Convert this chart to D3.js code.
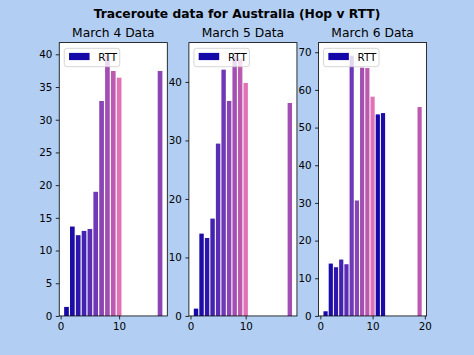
<!DOCTYPE html>
<html>
<head>
<meta charset="utf-8">
<script src="https://cdn.jsdelivr.net/npm/d3@7"></script>
<style>
  html, body { margin: 0; padding: 0; background: #b2cef2; }
  svg { display: block; font-family: "DejaVu Sans", sans-serif; }
</style>
</head>
<body>
<svg id="chart" width="474" height="355"></svg>
<script>
// ---- data ----
const suptitle = "Traceroute data for Australia (Hop v RTT)";
const panelTitles = ["March 4 Data", "March 5 Data", "March 6 Data"];
const seriesName = "RTT";

const hopsMar4 = [1, 2, 3, 4, 5, 6, 7, 8, 9, 10, 17];
const rttMar4  = [1.38, 13.67, 12.35, 13.0, 13.3, 18.98, 32.86, 39.8, 37.45, 36.43, 37.45];

const hopsMar5 = [1, 2, 3, 4, 5, 6, 7, 8, 9, 10, 18];
const rttMar5  = [1.25, 14.07, 13.33, 16.64, 29.46, 42.1, 36.75, 44.5, 44.0, 39.83, 36.4];

const hopsMar6 = [1, 2, 3, 4, 5, 6, 7, 8, 9, 10, 11, 12, 19];
const rttMar6  = [1.24, 13.9, 12.93, 14.97, 13.73, 69.1, 30.65, 65.9, 65.8, 58.2, 53.5, 53.85, 55.45];

const xTicksMar4 = [0, 10];
const xTicksMar5 = [0, 10];
const xTicksMar6 = [0, 10, 20];
const yTicksMar4 = [0, 5, 10, 15, 20, 25, 30, 35, 40];
const yTicksMar5 = [0, 10, 20, 30, 40];
const yTicksMar6 = [0, 10, 20, 30, 40, 50, 60, 70];

// bar colour cycle (10 colours)
const barColors = ["#1408a8", "#1c0ca8", "#2c16ab", "#4222b0", "#5a2eb4",
                   "#6f38b6", "#8a44b4", "#a24eb2", "#bc5ab0", "#e272b6"];

// ---- layout ----
const W = 474, H = 355;
const svg = d3.select("#chart");
svg.append("rect").attr("width", W).attr("height", H).attr("fill", "#b2cef2");

const axLeft = 59.25, axRight = 426.6, axTop = 42.6, axBottom = 315.95;
const axW = (axRight - axLeft) / 3.4;
const axGap = axW * 0.2;
const fontTick = 10.3, fontTitle = 12.3;

svg.append("text")
  .attr("x", W / 2).attr("y", 17.5)
  .attr("text-anchor", "middle")
  .attr("font-size", fontTitle).attr("font-weight", "bold")
  .attr("fill", "#000")
  .text(suptitle);

const panels = [
  { hops: hopsMar4, rtt: rttMar4, xt: xTicksMar4, yt: yTicksMar4 },
  { hops: hopsMar5, rtt: rttMar5, xt: xTicksMar5, yt: yTicksMar5 },
  { hops: hopsMar6, rtt: rttMar6, xt: xTicksMar6, yt: yTicksMar6 }
];

panels.forEach((p, i) => {
  const x0 = axLeft + i * (axW + axGap);
  const g = svg.append("g").attr("transform", `translate(${x0},${axTop})`);
  const h = axBottom - axTop;

  const lo = d3.min(p.hops) - 0.4, hi = d3.max(p.hops) + 0.4;
  const m = (hi - lo) * 0.05;
  const x = d3.scaleLinear().domain([lo - m, hi + m]).range([0, axW]);
  const y = d3.scaleLinear().domain([0, d3.max(p.rtt) * 1.05]).range([h, 0]);

  g.append("rect").attr("width", axW).attr("height", h).attr("fill", "#fff");

  const data = p.hops.map((hop, k) => ({ hop, v: p.rtt[k] }));
  g.selectAll("rect.bar").data(data).enter().append("rect")
    .attr("class", "bar")
    .attr("x", d => x(d.hop - 0.4))
    .attr("width", d => x(d.hop + 0.4) - x(d.hop - 0.4))
    .attr("y", d => y(d.v))
    .attr("height", d => y(0) - y(d.v))
    .attr("fill", d => barColors[(d.hop - 1) % barColors.length]);

  // axes
  const xAxis = d3.axisBottom(x).tickValues(p.xt).tickSize(3.5).tickPadding(3.5).tickFormat(d3.format("d"));
  const yAxis = d3.axisLeft(y).tickValues(p.yt).tickSize(3.5).tickPadding(3.5).tickFormat(d3.format("d"));
  const gx = g.append("g").attr("transform", `translate(0,${h})`).call(xAxis);
  const gy = g.append("g").call(yAxis);
  [gx, gy].forEach(a => {
    a.select(".domain").remove();
    a.selectAll("line").attr("stroke", "#000").attr("stroke-width", 0.8);
    a.selectAll("text").attr("font-size", fontTick).attr("fill", "#000")
      .attr("font-family", "DejaVu Sans, sans-serif");
  });

  // spines
  g.append("rect").attr("width", axW).attr("height", h)
    .attr("fill", "none").attr("stroke", "#000").attr("stroke-width", 0.8);

  // title
  g.append("text").attr("x", axW / 2).attr("y", -5.6)
    .attr("text-anchor", "middle").attr("font-size", fontTitle).attr("fill", "#000")
    .text(panelTitles[i]);

  // legend
  const lg = g.append("g").attr("transform", "translate(5,5.7)");
  lg.append("rect").attr("width", 55.5).attr("height", 18.4).attr("rx", 2.5)
    .attr("fill", "#fff").attr("fill-opacity", 0.8)
    .attr("stroke", "#cccccc").attr("stroke-width", 0.8);
  lg.append("rect").attr("x", 4.8).attr("y", 4.6).attr("width", 20.5).attr("height", 7.2)
    .attr("fill", barColors[0]);
  lg.append("text").attr("x", 34).attr("y", 12.8).attr("font-size", fontTick)
    .attr("fill", "#000").text(seriesName);
});
</script>
</body>
</html>
